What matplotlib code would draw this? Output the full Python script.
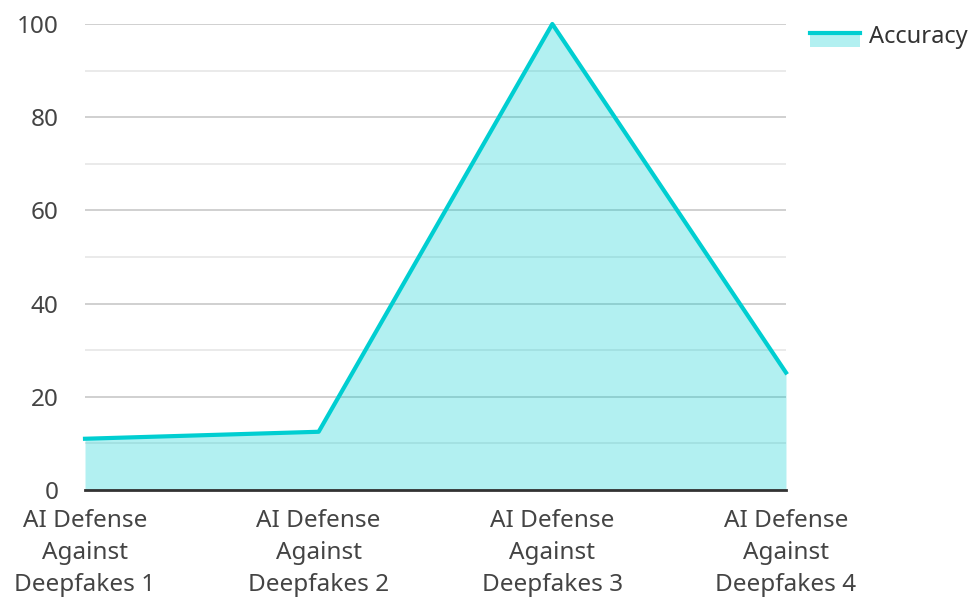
import matplotlib.pyplot as plt
from matplotlib.lines import Line2D
from matplotlib.patches import Patch, Rectangle
from matplotlib.legend_handler import HandlerBase
from matplotlib.ticker import MultipleLocator

plt.rcParams['font.family'] = ['Noto Sans', 'DejaVu Sans']

# Data
categories = ['AI Defense\nAgainst\nDeepfakes 1', 'AI Defense\nAgainst\nDeepfakes 2',
              'AI Defense\nAgainst\nDeepfakes 3', 'AI Defense\nAgainst\nDeepfakes 4']
accuracy = [11.0, 12.5, 100.0, 25.2]

line_color = '#00CED1'
fill_color = '#B2F0F1'


class AreaHandler(HandlerBase):
    # filled box with the line along its top edge
    def create_artists(self, legend, orig_handle, xdescent, ydescent,
                       width, height, fontsize, trans):
        bottom = -ydescent - 2.4
        top = height - 3.3
        rect = Rectangle((-xdescent, bottom), width, top - bottom,
                         facecolor=fill_color, edgecolor='none', transform=trans)
        line = Line2D([-xdescent, -xdescent + width], [top - 1, top - 1],
                      color=line_color, linewidth=3, transform=trans)
        return [rect, line]


fig = plt.figure(figsize=(9.76, 5.97), dpi=100)
ax = fig.add_axes([0.0871, 0.1792, 0.7182, 0.7806])

x = list(range(len(categories)))
ax.fill_between(x, accuracy, 0, color=line_color, alpha=0.3, linewidth=0, zorder=2)
ax.plot(x, accuracy, color=line_color, linewidth=3, zorder=3, clip_on=False)

ax.set_xlim(0, len(categories) - 1)
ax.set_ylim(0, 100)
ax.yaxis.set_major_locator(MultipleLocator(20))
ax.yaxis.set_minor_locator(MultipleLocator(10))
ax.grid(axis='y', which='major', color='#c8c8c8', linewidth=1.2, zorder=1)
ax.grid(axis='y', which='minor', color='#e6e6e6', linewidth=1.2, zorder=1)
ax.set_axisbelow(True)

ax.set_xticks(x)
ax.set_xticklabels(categories, linespacing=1.42)
ax.tick_params(axis='both', which='both', length=0, labelsize=17.5, colors='#444444')
ax.tick_params(axis='y', pad=19)
ax.tick_params(axis='x', pad=14)

for s in ['left', 'right', 'top']:
    ax.spines[s].set_visible(False)
ax.spines['bottom'].set_color('#333333')
ax.spines['bottom'].set_linewidth(2)
ax.spines['bottom'].set_zorder(4)

handle = Patch(facecolor=fill_color)
ax.legend([handle], ['Accuracy'], loc='upper left', bbox_to_anchor=(1.004, 1.043),
          frameon=False, fontsize=17, handlelength=2.1, labelcolor='#333333',
          handletextpad=0.4, handler_map={Patch: AreaHandler()})

fig.savefig('out.png', dpi=100)
